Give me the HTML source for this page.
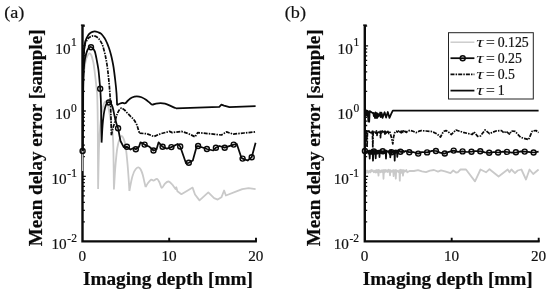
<!DOCTYPE html>
<html lang="en">
<head>
<meta charset="utf-8">
<title>Mean delay error vs imaging depth</title>
<style>
html,body{margin:0;padding:0;background:#fff;}
body{width:550px;height:295px;overflow:hidden;}
svg{display:block;}
svg text{font-family:"Liberation Serif","DejaVu Serif",serif;fill:#111;stroke:#111;stroke-width:0.2px;}
.tk{font-size:15.2px;}
.sup{font-size:11.5px;}
.lg{font-size:13.8px;}
.pl{font-size:17.2px;}
.lb{font-size:18px;font-weight:bold;fill:#0a0a0a;}
</style>
</head>
<body>
<svg width="550" height="295" viewBox="0 0 550 295">
<rect width="550" height="295" fill="#fff"/>
<g fill="none" stroke-linejoin="round" stroke-linecap="butt">
<path d="M82.9 170.5 C83 160.4 83 125.9 83.2 110 C83.4 94.1 83.5 83 83.9 75 C84.3 67 84.9 65.2 85.5 62 C86.1 58.8 86.6 57.5 87.3 56 C88 54.5 88.8 53.5 89.5 53.3 C90.2 53.1 90.7 54 91.2 55 C91.7 56 92.2 57.8 92.6 59.5 C93 61.2 93.4 62.2 93.8 65 C94.2 67.8 94.8 72.3 95.2 76 C95.6 79.7 96.1 83.5 96.4 87 C96.8 90.5 97.1 90.7 97.3 97 C97.5 103.3 97.7 109.7 97.8 125 C97.9 140.3 98 178.3 98.1 189 M98.1 189 C98.2 182.5 98.6 160.5 98.9 150 C99.2 139.5 99.7 132.3 100.2 126 C100.7 119.7 101.4 115.7 102 112 C102.6 108.3 103.2 105.8 103.8 104 C104.4 102.2 104.9 101.7 105.4 101.5 C105.9 101.3 106.5 101.9 107 103 C107.5 104.1 108 105.8 108.5 108 C109 110.2 109.5 113.2 110 116 C110.5 118.8 111 122 111.5 125 C112 128 112.4 129.8 112.7 134 C113 138.2 113.2 140.8 113.4 150 C113.6 159.2 113.8 182.9 113.9 189.5 M113.9 189.5 C114.2 185.4 114.9 171.9 115.5 165 C116.1 158.1 116.6 152.3 117.3 148 C118 143.7 118.8 141 119.5 139 C120.2 137 120.9 136.1 121.6 136 C122.2 135.9 122.9 137.2 123.4 138.3 C123.9 139.4 124.3 140.4 124.8 142.5 C125.3 144.6 125.7 147.2 126.2 151 C126.7 154.8 127.2 160.5 127.6 165 C128 169.5 128.3 173.7 128.6 178 C128.9 182.3 129.3 188.8 129.4 191 M129.4 191 C129.7 189.3 130.7 183.8 131.3 181 C131.9 178.2 132.4 176 133.2 174 C133.9 172 134.9 170.1 135.8 169 C136.7 167.9 137.6 167.2 138.4 167.3 C139.2 167.4 140 168.2 140.7 169.5 C141.4 170.8 142.2 172.9 142.8 175 C143.4 177.1 143.9 180 144.4 182 C144.9 184 145.4 186.2 145.6 187 M145.6 187 C146 186.3 147.1 184.2 148 183 C148.9 181.8 150.3 180 151.2 179.6 C152.1 179.2 152.5 180.7 153.5 180.6 C154.5 180.5 156 178.5 157 178.8 C158 179.1 158.7 181 159.5 182.5 C160.3 184 160.9 187.6 161.8 187.8 C162.7 188 163.9 184.7 165 183.6 C166.1 182.5 167.4 181.3 168.6 181.5 C169.8 181.7 171.7 184 172.3 184.5 M172.3 184.5 L175.5 189 L176.3 187.3 L177.4 191.3 L181.4 194.2 L187.7 190.5 L192.6 187.6 L195 194.5 L199.5 200.4 L208.3 192.4 L214.1 198.2 L217.7 199.6 L221.4 197.3 L224.1 190.5 L225.9 195.5 L237.7 190.9 L242.3 189.1 L248.6 188.2 L255.6 189.1" stroke="#c9c9c9" stroke-width="1.8"/>
<path d="M82.5 45.8 h3.3 M82.5 111 h3.3 M82.5 176.3 h3.3 M82.5 221.9 h2.4 M82.5 210.4 h2.4 M82.5 202.3 h2.4 M82.5 195.9 h2.4 M82.5 190.8 h2.4 M82.5 186.4 h2.4 M82.5 182.6 h2.4 M82.5 179.3 h2.4 M82.5 156.7 h2.4 M82.5 145.2 h2.4 M82.5 137 h2.4 M82.5 130.7 h2.4 M82.5 125.5 h2.4 M82.5 121.2 h2.4 M82.5 117.4 h2.4 M82.5 114 h2.4 M82.5 91.4 h2.4 M82.5 79.9 h2.4 M82.5 71.8 h2.4 M82.5 65.4 h2.4 M82.5 60.3 h2.4 M82.5 55.9 h2.4 M82.5 52.1 h2.4 M82.5 48.8 h2.4 M82.5 26.2 h2.4 M80.9 25.1 h3.8" stroke="#111" stroke-width="1.3" fill="none"/>
<path d="M169.2 241.4 v-3.6 M256 241.4 v-3.6" stroke="#0a0a0a" stroke-width="1.9" fill="none"/>
<path d="M82.5 24.7 V241.4 H256.9" stroke="#0a0a0a" stroke-width="2.4" fill="none" stroke-linejoin="miter"/>

<path d="M82.7 151 V171" stroke="#d6d6d6" stroke-width="1.2"/>
<path d="M82.8 151 C82.8 141.7 82.9 108.5 83.1 95 C83.2 81.5 83.4 76.1 83.7 70 C84 63.9 84.5 61.6 85.1 58.3 C85.7 55 86.6 52.2 87.3 50.4 C88 48.6 88.7 48.2 89.3 47.6 C89.9 47 90.4 46.9 91 47 C91.6 47.1 92.2 47.5 92.8 48.2 C93.4 48.9 94.1 49.4 94.8 51.4 C95.5 53.4 96.2 57.3 96.8 60.3 C97.4 63.3 97.9 65.9 98.4 69.5 C98.9 73.1 99.3 78.6 99.6 82 C99.9 85.4 100.1 86.2 100.3 90 C100.5 93.8 100.8 96.2 101 105 C101.2 113.8 101.5 136.3 101.6 142.6 M101.6 142.6 C101.8 139.7 102.2 129.8 102.6 125 C103 120.2 103.4 117 103.8 114 C104.2 111 104.7 109 105.2 107.2 C105.7 105.4 106.4 104.1 107 103.3 C107.6 102.5 108.2 102.3 108.7 102.2 C109.2 102.1 109.8 102.4 110.3 102.9 C110.8 103.4 111.3 104.1 111.8 105.2 C112.3 106.3 112.8 107.8 113.2 109.5 C113.6 111.2 113.9 113 114.4 115.3 C114.9 117.6 115.8 121.3 116.4 123.5 C117 125.7 117.8 127.5 118.1 128.3 M118.1 128.3 L120.5 141 L123.7 147.2 L126.9 146.8 L130.5 149.5 L133 148.3 L135.8 149.3 L139 146.8 L140.5 142.3 L144.6 144.6 L149.5 146.8 L153.5 150.5 L156.5 149.5 L158.6 142.3 L162.6 146.8 L166.8 148.6 L171.4 147.1 L177.7 144 L180.2 146.5 L186 163.2 L188.8 162.8 L192.8 160.5 L196.8 146 L198.1 146 L206.9 149 L213.2 150.5 L215.9 147.7 L219.5 146 L224.7 147.7 L233.7 144.6 L236.8 144 L241.4 157.7 L242.6 158.6 L247.7 160.5 L251.7 157.2 L255.6 142.8" stroke="#0a0a0a" stroke-width="1.75"/>
<g stroke="#0a0a0a" stroke-width="1.4"><circle cx="82.6" cy="151" r="2.5"/><circle cx="91" cy="47.3" r="2.5"/><circle cx="100.2" cy="88.8" r="2.5"/><circle cx="108.9" cy="102.5" r="2.5"/><circle cx="118.1" cy="128.2" r="2.5"/><circle cx="126.9" cy="146.7" r="2.5"/><circle cx="135.8" cy="149.3" r="2.5"/><circle cx="144.6" cy="144.6" r="2.5"/><circle cx="153.5" cy="150.5" r="2.5"/><circle cx="162.6" cy="146.8" r="2.5"/><circle cx="171.4" cy="147.1" r="2.5"/><circle cx="180.2" cy="146.5" r="2.5"/><circle cx="188.8" cy="162.8" r="2.5"/><circle cx="198.1" cy="146" r="2.5"/><circle cx="206.9" cy="149" r="2.5"/><circle cx="215.9" cy="147.7" r="2.5"/><circle cx="224.7" cy="147.7" r="2.5"/><circle cx="233.7" cy="144.6" r="2.5"/><circle cx="242.6" cy="158.6" r="2.5"/><circle cx="251.7" cy="157.2" r="2.5"/></g>
<path d="M82.9 130.7 C83 122.2 83 93.8 83.2 80 C83.5 66.2 83.7 54.7 84.4 48 C85.1 41.3 86.3 41.6 87.2 39.8 C88.1 38 89 37.7 90 37 C91 36.3 92.1 35.9 93.1 35.8 C94.1 35.7 95 36.1 96 36.6 C97 37.1 98 37.9 98.8 38.8 C99.6 39.7 100.3 40.8 101 42 C101.7 43.2 102.2 43.9 102.9 46.2 C103.6 48.5 104.7 52.7 105.4 56 C106.1 59.3 106.7 62.3 107.2 66 C107.7 69.7 108.1 73.2 108.6 78 C109.1 82.8 109.6 88.8 110 95 C110.4 101.2 110.7 108.3 110.9 115 C111.1 121.7 111.3 131.9 111.4 135.3 M111.4 135.3 C111.7 134.1 112.3 130.6 113 128 C113.7 125.5 114.7 122.4 115.4 120 C116.1 117.6 116.7 115.2 117.4 113.5 C118.1 111.8 118.9 110.5 119.6 109.6 C120.3 108.7 120.9 108.1 121.7 108.2 C122.5 108.3 123.5 109.2 124.5 110 C125.5 110.8 126.5 112.2 127.6 113.3 C128.7 114.4 130 115.8 131 116.8 C132 117.8 132.8 118.4 133.7 119.6 C134.6 120.8 135.7 122.5 136.5 124.2 C137.3 125.9 137.8 128 138.3 129.5 C138.8 131 139.3 132.6 139.5 133.2 M139.5 133.2 L146.8 133.7 L154 136.5 L161 133.6 L169.5 131.4 L172.3 132.6 L181.4 131.4 L188.6 133.7 L195 136.8 L197.7 132.6 L209 133.7 L221.4 135 L226.5 131.9 L233.2 134.1 L244 133 L255.4 131.9" stroke="#0a0a0a" stroke-width="1.7" stroke-dasharray="4 1.1 1.5 1.1"/>
<path d="M82.9 111 C83 104.2 83 81 83.3 70 C83.6 59 83.9 50.6 84.6 45 C85.3 39.4 86.4 38.6 87.4 36.6 C88.4 34.6 89.4 33.7 90.6 32.8 C91.8 31.9 93.4 31.5 94.6 31.4 C95.8 31.3 96.9 31.8 98 32.2 C99.1 32.6 100.2 32.9 101.3 33.9 C102.4 34.9 103.5 36.5 104.5 38 C105.5 39.5 106.2 41.1 107 42.9 C107.8 44.7 108.6 47 109.3 49 C110 51 110.6 53.3 111.1 55.2 C111.6 57.1 111.9 58.5 112.3 60.5 C112.7 62.5 113.1 64.2 113.6 67.5 C114.1 70.8 114.7 75.8 115.2 80 C115.7 84.2 116.2 88.8 116.5 93 C116.8 97.2 117 103.2 117.1 105.3 M117.1 105.3 C117.5 105 118.6 104.2 119.5 103.8 C120.4 103.4 121.5 102.9 122.4 102.8 C123.4 102.7 124.3 103.7 125.2 103.3 C126.1 102.9 126.9 101.5 128 100.5 C129.1 99.5 130.5 98.2 132 97.5 C133.5 96.8 135.2 96.3 136.8 96.3 C138.4 96.3 140 96.7 141.5 97.3 C143 97.9 144.6 98.8 146 99.8 C147.4 100.8 148.9 102.2 150 103 C151.1 103.8 151.3 104.5 152.3 104.6 C153.3 104.7 154.6 103.8 156 103.6 C157.4 103.4 159 103.2 160.5 103.2 C162 103.2 163.4 103.3 165 103.7 C166.6 104.1 168.2 104.8 170 105.6 C171.8 106.4 174.9 107.8 175.9 108.3 M175.9 108.3 L219.3 106.8 L221.4 104.6 L224 105.6 L229.5 107.2 L255.6 106.1" stroke="#0a0a0a" stroke-width="1.75"/>
</g>
<g fill="none" stroke-linejoin="round" stroke-linecap="butt">
<path d="M365.2 170.6 L366 170.5 L366.7 172.8 L367.4 170.7 L368.4 172.7 L369.4 170.8 L370.3 172.4 L371.2 169.9 L371.8 171.2 L372.7 170.3 L373.8 172.2 L374.8 170.7 L375.5 172.5 L376.3 170 L377.1 172.5 L378 169.9 L378.1 170.2 L378.5 175.6 L378.9 170.2 L379 172.3 L379.8 170.4 L380.8 172.2 L381.9 170.3 L382.7 172 L383.1 170.2 L383.5 178.8 L383.9 170.2 L384.1 173 L385.1 169.9 L385.9 171.7 L386.8 170.1 L387.6 172 L388.6 169.8 L389.5 172.5 L389.6 170.2 L390 175.4 L390.4 170.2 L391.1 172 L392.1 170.8 L392.9 171.9 L393.2 170.2 L393.6 176.2 L394 170.2 L394.7 172.2 L395.4 170.2 L395.8 178.6 L396.2 170.2 L396.6 171.7 L397.6 170.8 L398.3 172 L399.4 170.2 L399.8 180.6 L400.2 170.2 L400.9 169.8 L401.6 172.9 L402.5 170.6 L402.6 170.2 L403 175.6 L403.4 170.2 L403.6 172.7 L404.5 170.5 L405.2 171.4 L406.3 170 L407.3 172.3 L410 170.8 L414 171 L418 170.2 L422 171.4 L426 172.2 L430 170.6 L434 170 L438 171.6 L441 170.4 L445 171.4 L450.5 173.2 L453.2 170.5 L456 172.5 L457.7 172.3 L460.5 169.5 L466 169.5 L475 181.4 L480.5 169.5 L486 172.3 L489.5 169.2 L498.6 176.5 L507.7 169.5 L509.5 172.3 L511.4 169.5 L515 173.2 L517.7 170.5 L521.4 169.5 L526 179.5 L529.5 169.5 L533.2 174 L538.6 169.5" stroke="#c9c9c9" stroke-width="1.8"/>
<path d="M364.8 45.8 h3.3 M364.8 111 h3.3 M364.8 176.3 h3.3 M364.8 221.9 h2.4 M364.8 210.4 h2.4 M364.8 202.3 h2.4 M364.8 195.9 h2.4 M364.8 190.8 h2.4 M364.8 186.4 h2.4 M364.8 182.6 h2.4 M364.8 179.3 h2.4 M364.8 156.7 h2.4 M364.8 145.2 h2.4 M364.8 137 h2.4 M364.8 130.7 h2.4 M364.8 125.5 h2.4 M364.8 121.2 h2.4 M364.8 117.4 h2.4 M364.8 114 h2.4 M364.8 91.4 h2.4 M364.8 79.9 h2.4 M364.8 71.8 h2.4 M364.8 65.4 h2.4 M364.8 60.3 h2.4 M364.8 55.9 h2.4 M364.8 52.1 h2.4 M364.8 48.8 h2.4 M364.8 26.2 h2.4 M363.1 25.1 h3.8" stroke="#111" stroke-width="1.3" fill="none"/>
<path d="M451.7 241.4 v-3.6 M538.7 241.4 v-3.6" stroke="#0a0a0a" stroke-width="1.9" fill="none"/>
<path d="M364.8 24.7 V241.4 H539.7" stroke="#0a0a0a" stroke-width="2.4" fill="none" stroke-linejoin="miter"/>

<path d="M365.2 151 L365.9 151.3 L366.8 152 L367.7 150.6 L368.5 153.7 L369.3 150.6 L369.7 158.6 L370.1 150.6 L370.6 150.6 L371.3 153.9 L371.9 150.2 L372.6 150.6 L373 160.6 L373.4 150.6 L373.6 150.9 L374.3 153.4 L375 150.6 L375.3 150.6 L375.7 158.4 L376.1 150.6 L376.7 150.7 L377.5 153.7 L378.1 150.6 L378.8 152.1 L379.1 150.6 L379.5 157.2 L379.9 150.6 L380.4 152.8 L381.1 150.8 L381.7 152.8 L382.7 151.2 L383.6 153.3 L384.3 150.3 L385.2 152.8 L385.6 150.6 L386 158.6 L386.4 150.6 L386.8 152.2 L387.8 151.2 L388.8 152.2 L389.7 150.4 L389.9 150.6 L390.3 157.4 L390.7 150.6 L391.1 150.1 L391.8 153.3 L392.7 151.4 L393.4 151.9 L394.3 150.6 L394.7 160.6 L395.1 150.6 L395.2 153.4 L395.9 150.4 L396.6 152.6 L396.9 150.6 L397.3 157 L397.7 150.6 L398.3 152.5 L399.5 150.7 L400.5 151.9 L401.5 151.3 L402.4 152.9 L403.4 150.9 L404.5 151.8 L405.3 151 L409 152.2 L413 152 L418.2 153.6 L422 152 L427.3 152.4 L432 150.8 L436.4 151 L440 152.6 L444.5 153.6 L448 152.2 L453.7 150.6 L458 151.8 L462.6 151.4 L467 152 L471.9 151.7 L476 151 L481 151.4 L485 152.4 L489.5 152.8 L494 152 L498.3 152.5 L503 151.6 L507.7 152 L512 152.6 L516.5 152.3 L521 151.4 L525.5 151.7 L530 152.2 L534.1 152.5 L538.6 151.6" stroke="#0a0a0a" stroke-width="1.75"/>
<g stroke="#0a0a0a" stroke-width="1.4"><circle cx="364.9" cy="151" r="2.5"/><circle cx="373.8" cy="151.5" r="2.5"/><circle cx="382.7" cy="151.3" r="2.5"/><circle cx="391.5" cy="152.3" r="2.5"/><circle cx="400.4" cy="151.8" r="2.5"/><circle cx="409.3" cy="152.2" r="2.5"/><circle cx="418.2" cy="153.6" r="2.5"/><circle cx="427.1" cy="152.4" r="2.5"/><circle cx="435.9" cy="151" r="2.5"/><circle cx="444.8" cy="153.5" r="2.5"/><circle cx="453.7" cy="150.6" r="2.5"/><circle cx="462.6" cy="151.4" r="2.5"/><circle cx="471.5" cy="151.7" r="2.5"/><circle cx="480.3" cy="151.3" r="2.5"/><circle cx="489.2" cy="152.8" r="2.5"/><circle cx="498.1" cy="152.5" r="2.5"/><circle cx="507" cy="151.9" r="2.5"/><circle cx="515.9" cy="152.3" r="2.5"/><circle cx="524.7" cy="151.6" r="2.5"/><circle cx="533.6" cy="152.5" r="2.5"/></g>
<path d="M365.2 131.1 L366.1 130.8 L366.4 140 L366.8 131.2 L367.1 147.6 L367.5 131 L367.9 131.3 L368.5 132.4 L368.9 130.8 L369.4 132.2 L370 131 L370.6 132.6 L371.2 131.4 L371.8 132.9 L372.4 131.2 L372.8 147.6 L373.2 131.4 L373.6 131.4 L374.4 132.5 L375.1 131.8 L375.6 133 L376.4 131 L376.6 131.4 L377 135.4 L377.4 131.4 L377.9 131.6 L378.6 132.3 L379.2 131.6 L380 132.7 L380.1 131.4 L380.5 137.6 L380.9 131.4 L381.5 132.9 L382.3 131 L383 132.6 L383.9 131.7 L384.5 133 L384.6 131.4 L385 135 L385.4 131.4 L386 133.3 L386.5 131 L387.3 133.4 L387.9 131.3 L388.8 133.5 L389.9 132.2 L391.6 138 L392.8 143.8 L393.6 137 L394.6 133 L395.8 131.4 L396.4 131.2 L397.5 132 L398.5 131 L399.4 132.6 L400.5 131.5 L401.2 132.8 L402 131 L402.9 132.3 L403.7 130.8 L404.5 132.5 L405.5 131.5 L406.5 132.4 L407.4 131.3 L410 130.3 L413 131.2 L416.3 132.6 L419 131.2 L421.5 130.6 L426 131 L431 131.4 L434 132.4 L437 134 L440.5 137 L442.3 133.5 L444 131.2 L446 130.6 L448 131.6 L451.4 134.5 L455.9 130 L463.2 132.4 L472.3 134.5 L474 131.8 L477.7 136.4 L480.5 136 L485 130 L489.5 133.6 L496 131 L501.4 130.5 L504 133 L506 131.3 L509.5 134.2 L511.4 131 L515 131.3 L520.5 137.3 L528.6 139.6 L532.3 131 L536 130.5 L538.6 132.7" stroke="#0a0a0a" stroke-width="1.7" stroke-dasharray="4 1.1 1.5 1.1"/>
<path d="M365.2 110.6 L366 110.4 L366.4 115.5 L366.9 110.6 L367.4 116 L367.9 111 L368.3 121.4 L368.8 112 L369.2 121.8 L369.7 111.2 L370.3 111.4 L371.5 112.3 L373 113.2 L373.3 112.9 L373.8 116 L374.3 113.3 L374.9 118 L375.5 112.3 L376.1 118 L376.6 113.1 L377.3 117.8 L377.8 113.5 L378.6 116.3 L379.2 114.3 L379.7 115.3 L380.2 112.5 L380.7 117.2 L381.4 112.6 L381.8 113.5 L382.5 117.9 L384.6 112.2 L386.1 117.6 L387.8 112 L389.5 117.9 L391.3 113.6 L392.8 110.6 L538.6 110.6" stroke="#0a0a0a" stroke-width="1.75"/>
</g>
<rect x="448.5" y="32.7" width="84.8" height="66.3" fill="#fff" stroke="#222" stroke-width="1"/>
<path d="M450.5 42.2 H474.4" stroke="#c9c9c9" stroke-width="1.4"/>
<path d="M450.5 58.2 H474.4" stroke="#0a0a0a" stroke-width="1.75"/>
<circle cx="462.7" cy="58.2" r="2.5" fill="none" stroke="#0a0a0a" stroke-width="1.4"/>
<path d="M450.5 74.4 H474.4" stroke="#0a0a0a" stroke-width="1.7" stroke-dasharray="4 1.1 1.5 1.1"/>
<path d="M450.5 90.6 H474.4" stroke="#0a0a0a" stroke-width="1.75"/>
<text x="476.2" y="46.7" class="lg" font-style="italic" style="font-size:14px;stroke:none" textLength="7.4" lengthAdjust="spacingAndGlyphs">τ</text><text x="486.1" y="46.7" class="lg" font-size="14.6" textLength="8.8" lengthAdjust="spacingAndGlyphs">=</text><text x="497.7" y="46.7" class="lg">0.125</text>
<text x="476.2" y="62.7" class="lg" font-style="italic" style="font-size:14px;stroke:none" textLength="7.4" lengthAdjust="spacingAndGlyphs">τ</text><text x="486.1" y="62.7" class="lg" font-size="14.6" textLength="8.8" lengthAdjust="spacingAndGlyphs">=</text><text x="497.7" y="62.7" class="lg">0.25</text>
<text x="476.2" y="78.9" class="lg" font-style="italic" style="font-size:14px;stroke:none" textLength="7.4" lengthAdjust="spacingAndGlyphs">τ</text><text x="486.1" y="78.9" class="lg" font-size="14.6" textLength="8.8" lengthAdjust="spacingAndGlyphs">=</text><text x="497.7" y="78.9" class="lg">0.5</text>
<text x="476.2" y="95.1" class="lg" font-style="italic" style="font-size:14px;stroke:none" textLength="7.4" lengthAdjust="spacingAndGlyphs">τ</text><text x="486.1" y="95.1" class="lg" font-size="14.6" textLength="8.8" lengthAdjust="spacingAndGlyphs">=</text><text x="497.7" y="95.1" class="lg">1</text>
<text x="70.5" y="53.6" class="tk" text-anchor="end">10</text><text x="71.1" y="46.2" class="sup">1</text>
<text x="70.5" y="118.8" class="tk" text-anchor="end">10</text><text x="71.1" y="111.5" class="sup">0</text>
<text x="66.7" y="184.1" class="tk" text-anchor="end">10</text><text x="67.3" y="176.7" class="sup">-1</text>
<text x="66.7" y="249.4" class="tk" text-anchor="end">10</text><text x="67.3" y="242" class="sup">-2</text>
<text x="82.2" y="261.3" class="tk" text-anchor="middle">0</text>
<text x="169" y="261.3" class="tk" text-anchor="middle">10</text>
<text x="255.8" y="261.3" class="tk" text-anchor="middle">20</text>

<text x="352.8" y="53.6" class="tk" text-anchor="end">10</text><text x="353.4" y="46.2" class="sup">1</text>
<text x="352.8" y="118.8" class="tk" text-anchor="end">10</text><text x="353.4" y="111.5" class="sup">0</text>
<text x="348.9" y="184.1" class="tk" text-anchor="end">10</text><text x="349.5" y="176.7" class="sup">-1</text>
<text x="348.9" y="249.4" class="tk" text-anchor="end">10</text><text x="349.5" y="242" class="sup">-2</text>
<text x="364.6" y="261.3" class="tk" text-anchor="middle">0</text>
<text x="451.5" y="261.3" class="tk" text-anchor="middle">10</text>
<text x="538.5" y="261.3" class="tk" text-anchor="middle">20</text>

<text x="4.2" y="18.4" class="pl" textLength="20.2" lengthAdjust="spacingAndGlyphs">(a)</text>
<text x="284.8" y="18.4" class="pl" textLength="21.2" lengthAdjust="spacingAndGlyphs">(b)</text>
<text x="82.9" y="285" class="lb" textLength="170" lengthAdjust="spacingAndGlyphs">Imaging depth [mm]</text>
<text x="362.8" y="285" class="lb" textLength="170" lengthAdjust="spacingAndGlyphs">Imaging depth [mm]</text>
<text transform="translate(42.4 246.3) rotate(-90)" class="lb" textLength="216.8" lengthAdjust="spacingAndGlyphs">Mean delay error [sample]</text>
<text transform="translate(320.3 246.3) rotate(-90)" class="lb" textLength="216.8" lengthAdjust="spacingAndGlyphs">Mean delay error [sample]</text>
</svg>
</body>
</html>
